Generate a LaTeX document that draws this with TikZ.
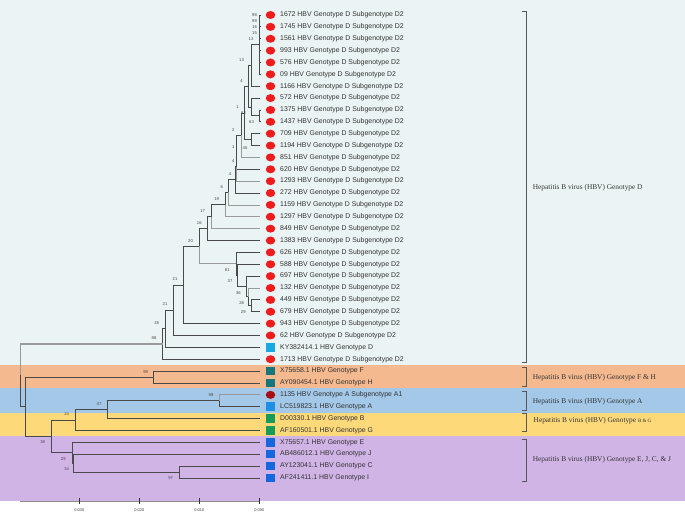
\documentclass[tikz,border=0pt]{standalone}
\usepackage{fontspec}
\setmainfont{Liberation Serif}
\newfontfamily\arialf{Liberation Sans}
\usetikzlibrary{calc,shapes.geometric}
\definecolor{bgD}{HTML}{EBF4F4}
\definecolor{bgFH}{HTML}{F4B98F}
\definecolor{bgA}{HTML}{A4C8E8}
\definecolor{bgBG}{HTML}{FDD97A}
\definecolor{bgE}{HTML}{D1B4E6}
\definecolor{brc}{HTML}{4A4A4A}
\definecolor{brcl}{HTML}{9A9A9A}
\definecolor{txc}{HTML}{333333}
\definecolor{mred}{HTML}{EE1C1C}
\definecolor{mdred}{HTML}{A80E12}
\definecolor{mcyan}{HTML}{19A9E2}
\definecolor{mteal}{HTML}{16767E}
\definecolor{mablue}{HTML}{1E8FE6}
\definecolor{mgreen}{HTML}{169B5A}
\definecolor{mblue}{HTML}{1467DD}
\newcommand\treenode[4]{\path ($(#3)!0.5!(#4)$) coordinate (#1m); \coordinate (#1) at (#2,0 |- #1m);}
\begin{document}
\begin{tikzpicture}[x=1pt,y=-1pt,
  br/.style={draw=brc, line width=0.85pt},
  brl/.style={draw=brcl, line width=0.85pt},
  rd/.style={ellipse, fill=mred, minimum width=9.5pt, minimum height=8pt, inner sep=0pt},
  drd/.style={ellipse, fill=mdred, minimum width=9.5pt, minimum height=8pt, inner sep=0pt},
  sqbase/.style={rectangle, minimum width=9pt, minimum height=8.5pt, inner sep=0pt},
  sqc/.style={sqbase, fill=mcyan},
  sqt/.style={sqbase, fill=mteal},
  sqa/.style={sqbase, fill=mablue},
  sqg/.style={sqbase, fill=mgreen},
  sqb/.style={sqbase, fill=mblue},
  tip/.style={font=\arialf\fontsize{6.9}{7}\selectfont, text=txc, inner sep=0pt, anchor=west},
  bs/.style={font=\arialf\fontsize{4.2}{4.2}\selectfont, text=black!72, inner sep=0pt},
  grp/.style={font=\fontsize{7.35}{8}\selectfont, text=txc, inner sep=0pt, anchor=west},
  brk/.style={draw=black!65, line width=0.9pt},
  axl/.style={font=\arialf\fontsize{4}{4}\selectfont, text=black!75, inner sep=0pt}]
\useasboundingbox (0,0) rectangle (685,512);
\fill[white] (0,0) rectangle (685,512);
% bands
\fill[bgD] (0,0) rectangle (685,364.5);
\fill[bgFH] (0,364.5) rectangle (685,387.5);
\fill[bgA] (0,387.5) rectangle (685,412.7);
\fill[bgBG] (0,412.7) rectangle (685,436.2);
\fill[bgE] (0,436.2) rectangle (685,501);
% leaves
\foreach \i/\m/\t in {
 0/rd/1672 HBV Genotype D Subgenotype D2,
 1/rd/1745 HBV Genotype D Subgenotype D2,
 2/rd/1561 HBV Genotype D Subgenotype D2,
 3/rd/993 HBV Genotype D Subgenotype D2,
 4/rd/576 HBV Genotype D Subgenotype D2,
 5/rd/09 HBV Genotype D Subgenotype D2,
 6/rd/1166 HBV Genotype D Subgenotype D2,
 7/rd/572 HBV Genotype D Subgenotype D2,
 8/rd/1375 HBV Genotype D Subgenotype D2,
 9/rd/1437 HBV Genotype D Subgenotype D2,
 10/rd/709 HBV Genotype D Subgenotype D2,
 11/rd/1194 HBV Genotype D Subgenotype D2,
 12/rd/851 HBV Genotype D Subgenotype D2,
 13/rd/620 HBV Genotype D Subgenotype D2,
 14/rd/1293 HBV Genotype D Subgenotype D2,
 15/rd/272 HBV Genotype D Subgenotype D2,
 16/rd/1159 HBV Genotype D Subgenotype D2,
 17/rd/1297 HBV Genotype D Subgenotype D2,
 18/rd/849 HBV Genotype D Subgenotype D2,
 19/rd/1383 HBV Genotype D Subgenotype D2,
 20/rd/626 HBV Genotype D Subgenotype D2,
 21/rd/588 HBV Genotype D Subgenotype D2,
 22/rd/697 HBV Genotype D Subgenotype D2,
 23/rd/132 HBV Genotype D Subgenotype D2,
 24/rd/449 HBV Genotype D Subgenotype D2,
 25/rd/679 HBV Genotype D Subgenotype D2,
 26/rd/943 HBV Genotype D Subgenotype D2,
 27/rd/62 HBV Genotype D Subgenotype D2,
 28/sqc/KY382414.1 HBV Genotype D,
 29/rd/1713 HBV Genotype D Subgenotype D2,
 30/sqt/X75658.1 HBV Genotype F,
 31/sqt/AY090454.1 HBV Genotype H,
 32/drd/1135 HBV Genotype A Subgenotype A1,
 33/sqa/LC519823.1 HBV Genotype A,
 34/sqg/D00330.1 HBV Genotype B,
 35/sqg/AF160501.1 HBV Genotype G,
 36/sqb/X75657.1 HBV Genotype E,
 37/sqb/AB486012.1 HBV Genotype J,
 38/sqb/AY123041.1 HBV Genotype C,
 39/sqb/AF241411.1 HBV Genotype I}{
  \coordinate (l\i) at (260,{15+11.87*\i});
  \node[\m] (m\i) at (270.5,{15+11.87*\i}) {};
  \node[tip] (t\i) at (280,{15+11.87*\i}) {\t};
}
% internal nodes
\treenode{z1}{259.5}{l0}{l5}
\treenode{n1}{251.7}{z1}{l6}
\treenode{c89}{259.5}{l8}{l9}
\treenode{c7}{251}{l7}{c89}
\treenode{n2}{248.3}{n1}{c7}
\treenode{c1011}{251.7}{l10}{l11}
\treenode{n3}{244.3}{n2}{c1011}
\treenode{u1}{241}{n3}{l12}
\treenode{p1a}{236.7}{u1}{l13}
\treenode{p1b}{236.2}{p1a}{l14}
\treenode{p1c}{235.7}{p1b}{l15}
\treenode{p2}{228.3}{p1c}{l16}
\treenode{p3}{225}{p2}{l17}
\treenode{p4}{211}{p3}{l18}
\treenode{p5}{207.7}{p4}{l19}
\treenode{q5}{251}{l24}{l25}
\treenode{q4}{248.3}{l23}{q5}
\treenode{q3}{246.7}{l22}{q4}
\treenode{q2}{237.3}{l21}{q3}
\treenode{q1}{236}{l20}{q2}
\treenode{p6}{199.3}{p5}{q1}
\treenode{p7}{183.3}{p6}{l26}
\treenode{p8}{173.3}{p7}{l27}
\treenode{p9}{165}{p8}{l28}
\treenode{p10}{162.7}{p9}{l29}
\treenode{fh}{153.3}{l30}{l31}
\treenode{a1}{219.3}{l32}{l33}
\treenode{ab}{107.3}{a1}{l34}
\treenode{abg}{75.7}{ab}{l35}
\treenode{ci}{179.3}{l38}{l39}
\treenode{jci}{73.3}{l37}{ci}
\treenode{ejci}{72.3}{l36}{jci}
\treenode{big}{51}{abg}{ejci}
\treenode{fhrest}{25}{fh}{big}
\treenode{root}{20.7}{p10}{fhrest}
% branches
\foreach \k in {0,...,5}{\draw[br] (z1) |- (l\k);}
\draw[br] (n1) |- (z1); \draw[br] (n1) |- (l6);
\draw[br] (c89) |- (l8); \draw[br] (c89) |- (l9);
\draw[br] (c7) |- (l7); \draw[br] (c7) |- (c89);
\draw[br] (n2) |- (n1); \draw[br] (n2) |- (c7);
\draw[br] (c1011) |- (l10); \draw[br] (c1011) |- (l11);
\draw[br] (n3) |- (n2); \draw[br] (n3) |- (c1011);
\draw[br] (u1) |- (n3); \draw[brl] (u1) |- (l12);
\draw[br] (p1a) |- (u1); \draw[br] (p1a) |- (l13);
\draw[br] (p1b) |- (p1a); \draw[brl] (p1b) |- (l14);
\draw[br] (p1c) |- (p1b); \draw[br] (p1c) |- (l15);
\draw[br] (p2) |- (p1c); \draw[brl] (p2) |- (l16);
\draw[br] (p3) |- (p2); \draw[brl] (p3) |- (l17);
\draw[br] (p4) |- (p3); \draw[brl] (p4) |- (l18);
\draw[br] (p5) |- (p4); \draw[br] (p5) |- (l19);
\draw[br] (q5) |- (l24); \draw[br] (q5) |- (l25);
\draw[br] (q4) |- (q5); \draw[brl] (q4) |- (l23);
\draw[br] (q3) |- (l22); \draw[br] (q3) |- (q4);
\draw[br] (q2) |- (l21); \draw[br] (q2) |- (q3);
\draw[br] (q1) |- (l20); \draw[br] (q1) |- (q2);
\draw[br] (p6) |- (p5); \draw[brl] (p6) |- (q1);
\draw[br] (p7) |- (p6); \draw[br] (p7) |- (l26);
\draw[br] (p8) |- (p7); \draw[br] (p8) |- (l27);
\draw[br] (p9) |- (p8); \draw[br] (p9) |- (l28);
\draw[br] (p10) |- (p9); \draw[br] (p10) |- (l29);
\draw[br] (fh) |- (l30); \draw[br] (fh) |- (l31);
\draw[brl] (a1) |- (l32); \draw[br] (a1) |- (l33);
\draw[br] (ab) |- (a1); \draw[br] (ab) |- (l34);
\draw[br] (abg) |- (ab); \draw[br] (abg) |- (l35);
\draw[br] (ci) |- (l38); \draw[br] (ci) |- (l39);
\draw[br] (jci) |- (l37); \draw[br] (jci) |- (ci);
\draw[br] (ejci) |- (l36); \draw[br] (ejci) |- (jci);
\draw[br] (big) |- (abg); \draw[br] (big) |- (ejci);
\draw[br] (fhrest) |- (fh); \draw[br] (fhrest) |- (big);
\draw[brl, line width=1.2pt] (root) |- (p10); \draw[br] (root) |- (fhrest);
% bootstrap values
\node[bs] (b1) at (254.5,15) {98};
\node[bs] (b2) at (254.5,21) {98};
\node[bs] (b3) at (254.5,27.3) {16};
\node[bs] (b4) at (254.5,33.3) {15};
\node[bs] (b5) at (251,39.3) {13};
\node[bs] (b6) at (241.5,60.5) {13};
\node[bs] (b7) at (241.5,81) {4};
\node[bs] (b8) at (237.5,107.5) {1};
\node[bs] (b9) at (243.5,113.3) {62};
\node[bs] (b10) at (251.5,122.5) {63};
\node[bs] (b11) at (233.3,130) {2};
\node[bs] (b12) at (233.3,146.7) {1};
\node[bs] (b13) at (245,148.3) {45};
\node[bs] (b14) at (233.3,161) {4};
\node[bs] (b15) at (230,174.5) {4};
\node[bs] (b16) at (221.7,186.7) {6};
\node[bs] (b17) at (216.7,199.3) {19};
\node[bs] (b18) at (202.7,211) {17};
\node[bs] (b19) at (199.3,223) {16};
\node[bs] (b20) at (190.5,241) {20};
\node[bs] (b21) at (227.3,270) {81};
\node[bs] (b22) at (230,281) {37};
\node[bs] (b23) at (238.3,292.7) {36};
\node[bs] (b24) at (241.7,303.3) {26};
\node[bs] (b25) at (243.3,311.7) {29};
\node[bs] (b26) at (175,279.3) {21};
\node[bs] (b27) at (165,304) {21};
\node[bs] (b28) at (156.7,323.3) {28};
\node[bs] (b29) at (154,338.3) {88};
\node[bs] (b30) at (145.7,371.7) {99};
\node[bs] (b31) at (211,395) {99};
\node[bs] (b32) at (99,404.3) {47};
\node[bs] (b33) at (66.7,414.3) {24};
\node[bs] (b34) at (42.7,442.3) {38};
\node[bs] (b35) at (63.3,459) {29};
\node[bs] (b36) at (66.7,469.3) {34};
\node[bs] (b37) at (170.7,478.3) {97};
% scale axis
\coordinate (ax0) at (20,501.7);
\coordinate (ax1) at (260,501.7);
\draw[draw=black!45, line width=1.1pt] (ax0) -- (ax1);
\foreach \j/\x/\v in {1/79.3/0.030,2/139.3/0.020,3/199.3/0.010,4/259.3/0.000}{
  \coordinate (tk\j) at (\x,497.7);
  \draw[draw=black!80, line width=0.8pt] (tk\j) -- ++(0,6.3);
  \node[axl] (al\j) at (\x,510) {\v};
}
% group brackets
\draw[brk] (521.7,11.7) -- (526.7,11.7) -- (526.7,362.7) -- (521.7,362.7);
\node[grp] (gD) at (532.7,187.7) {Hepatitis B virus (HBV) Genotype D};
\draw[brk] (521.7,367.3) -- (526.7,367.3) -- (526.7,386) -- (521.7,386);
\node[grp] (gFH) at (532.7,377.7) {Hepatitis B virus (HBV) Genotype F \& H};
\draw[brk] (521.7,391.7) -- (526.7,391.7) -- (526.7,410.7) -- (521.7,410.7);
\node[grp] (gA) at (532.7,401.7) {Hepatitis B virus (HBV) Genotype A};
\draw[brk] (521.7,413.6) -- (526.7,413.6) -- (526.7,431) -- (521.7,431);
\node[grp] (gBG) at (533.5,421) {Hepatitis B virus (HBV) Genotype {\fontsize{5}{6}\selectfont B \& G}};
\draw[brk] (521.7,439) -- (526.7,439) -- (526.7,481) -- (521.7,481);
\node[grp] (gE) at (532.7,460) {Hepatitis B virus (HBV) Genotype E, J, C, \& J};
\end{tikzpicture}
\end{document}
